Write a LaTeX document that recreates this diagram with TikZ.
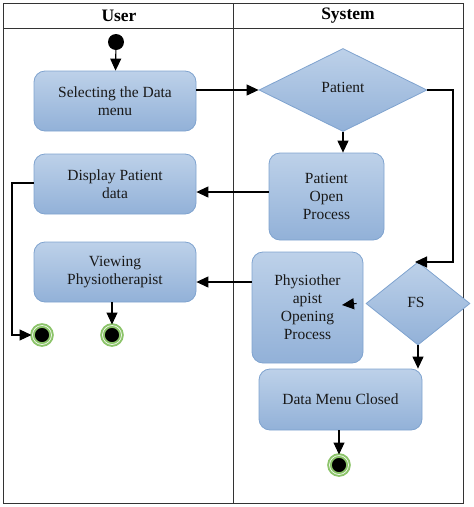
\documentclass[tikz,border=0pt]{standalone}
\usepackage{fontspec}
\setmainfont{Liberation Serif}
\usetikzlibrary{shapes.geometric,arrows.meta}
\definecolor{boxtop}{HTML}{BDD1E9}
\definecolor{boxbot}{HTML}{92B1D8}
\definecolor{boxline}{HTML}{7FA3CF}
\definecolor{ring}{HTML}{8CC46A}
\begin{document}
\begin{tikzpicture}[x=1pt,y=-1pt,
  txt/.style={font=\fontsize{15.5}{18}\selectfont,text=black!90},
  act/.style={draw=boxline,line width=0.8pt,rounded corners=11pt,top color=boxtop,bottom color=boxbot,
    align=center,txt,inner sep=2pt},
  dec/.style={diamond,draw=boxline,line width=0.8pt,top color=boxtop,bottom color=boxbot,
    inner sep=0pt,aspect=2},
  flow/.style={draw=black,line width=1.1pt,-{Triangle[length=12pt,width=11pt]}},
  startdot/.style={circle,fill=black,minimum size=16pt,inner sep=0pt},
  enddot/.style={circle,fill=black,draw=ring,line width=2pt,minimum size=19pt,inner sep=0pt,double=white,double distance=0.6pt},
  hdr/.style={font=\bfseries\fontsize{17.5}{18}\selectfont}]
\useasboundingbox (0,0) rectangle (474,507);
% frame
\draw[line width=1pt,draw=black!80] (3,3) rectangle (463,503);
\draw[line width=1pt,draw=black!80] (3,28) -- (463,28);
\draw[line width=1pt,draw=black!80] (233,3) -- (233,503);
\node[hdr] (hu) at (119,15.5) {User};
\node[hdr] (hs) at (348,15.5) {System};
% nodes
\node[startdot] (start) at (116,42) {};
\node[act,minimum width=162pt,minimum height=60pt] (sel) at (115,101) {Selecting the Data\\menu};
\node[dec,minimum width=168pt,minimum height=83pt] (pat) at (343,90) {};
\node[txt] (patt) at (343,87) {Patient};
\node[act,minimum width=115pt,minimum height=87pt] (pop) at (326.5,196.5) {Patient\\Open\\Process};
\node[act,minimum width=162pt,minimum height=60pt] (disp) at (115,184) {Display Patient\\data};
\node[act,minimum width=162pt,minimum height=60pt] (view) at (115,272) {Viewing\\Physiotherapist};
\node[act,minimum width=111pt,minimum height=111pt] (phys) at (307.5,307.5) {Physiother\\apist\\Opening\\Process};
\node[dec,minimum width=104pt,minimum height=83pt] (fs) at (418,303.5) {};
\node[txt] (fst) at (416,302) {FS};
\node[act,minimum width=163pt,minimum height=61pt] (dmc) at (340.5,399.5) {Data Menu Closed};
\node[enddot] (end1) at (42,335) {};
\node[enddot] (end2) at (112,335) {};
\node[enddot] (end3) at (339,465) {};
% connectors
\draw[flow] (start) -- (sel);
\draw[flow] (sel.east |- pat.west) -- (pat.west);
\draw[flow] (pat.south) -- (pat.south |- pop.north);
\draw[flow] (pop.west |- 0,192) -- (disp.east |- 0,192);
\draw[flow] (disp.west |- 0,183) -- (12,183) -- (12,335) -- (end1.west);
\draw[flow] (view.south -| end2) -- (end2.north);
\draw[flow] (phys.west |- 0,282) -- (view.east |- 0,282);
\coordinate (fsin) at (415,262);
\draw[flow] (pat.east) -- (453,90) -- (453,262) -- (fsin);
\draw[flow] ([xshift=-9pt]fs.west) -- (342,305);
\draw[flow] (fs.south) -- (dmc.north -| fs.south);
\draw[flow] (dmc.south -| end3) -- (end3.north);
\end{tikzpicture}
\end{document}
